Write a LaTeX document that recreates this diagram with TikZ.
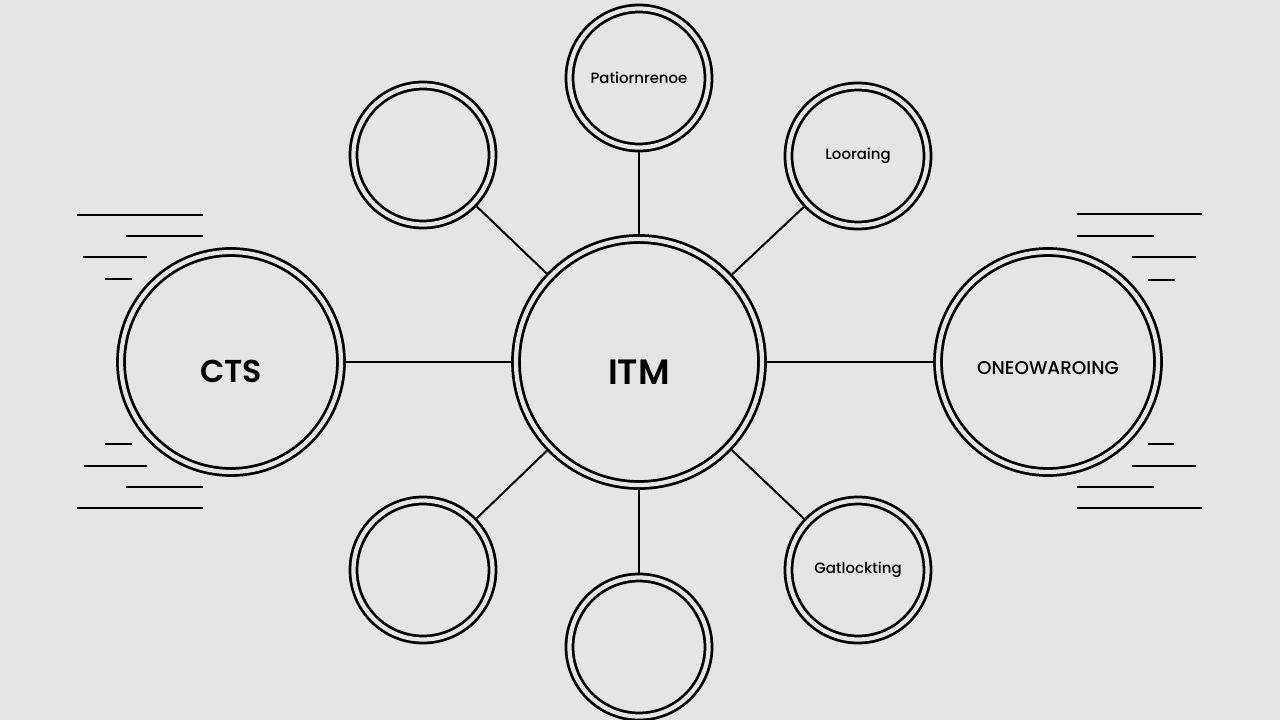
\documentclass[tikz,border=0pt]{standalone}
\usepackage{fontspec}
\setmainfont{Poppins}
\newfontfamily\semifont{Poppins SemiBold}
\newfontfamily\midfont{Poppins Medium}
\definecolor{paper}{RGB}{229,229,229}

\begin{document}
\begin{tikzpicture}[x=0.2mm, y=0.2mm]
\tikzset{
  ring/.style={circle, draw=black, line width=0.55mm, double=paper, double distance=0.85mm, inner sep=0pt, outer sep=1mm},
  hub/.style={ring, minimum size=49.2mm, text height=9mm, text depth=0pt, font=\semifont\fontsize{20}{24}\selectfont},
  side/.style={ring, minimum size=44mm},
  leaf/.style={ring, minimum size=27.8mm, font=\midfont\fontsize{8.5}{10}\selectfont},
  spoke/.style={line width=0.4mm},
  trail/.style={line width=0.45mm}
}
\fill [paper] (0,0) rectangle (1280,-720);
\useasboundingbox (0,0) rectangle (1280,-720);
\node [hub] (itm) at (639,-362) {ITM};
\node [side, text height=8.4mm, text depth=0pt, font=\semifont\fontsize{18}{22}\selectfont] (cts) at (231,-362) {CTS};
\node [side, text height=5mm, text depth=0pt, font=\midfont\fontsize{10.5}{13}\selectfont] (oneo) at (1048,-362) {ONEOWAROING};
\node [leaf] (perf) at (639,-78) {Patiornrenoe};
\node [leaf] (upleft) at (423,-155) {};
\node [leaf] (loor) at (858,-156) {Looraing};
\node [leaf] (lowleft) at (423,-570) {};
\node [leaf] (low) at (639,-647) {};
\node [leaf] (gatl) at (858,-570) {Gatlockting};
\draw [spoke] (itm) -- (perf);
\draw [spoke] (itm) -- (upleft);
\draw [spoke] (itm) -- (loor);
\draw [spoke] (itm) -- (cts);
\draw [spoke] (itm) -- (oneo);
\draw [spoke] (itm) -- (lowleft);
\draw [spoke] (itm) -- (low);
\draw [spoke] (itm) -- (gatl);
\foreach \xa/\xb/\y in {77/203/215, 126/203/236, 83/147/257, 105/132/279,
    105/132/444, 84/147/466, 126/203/487, 77/203/508}
  \draw [trail] (\xa,-\y) -- (\xb,-\y);
\foreach \xa/\xb/\y in {1077/1202/214, 1077/1154/236, 1132/1196/257, 1148/1175/280,
    1148/1174/444, 1132/1196/466, 1077/1154/487, 1077/1202/508}
  \draw [trail] (\xa,-\y) -- (\xb,-\y);
\end{tikzpicture}
\end{document}
